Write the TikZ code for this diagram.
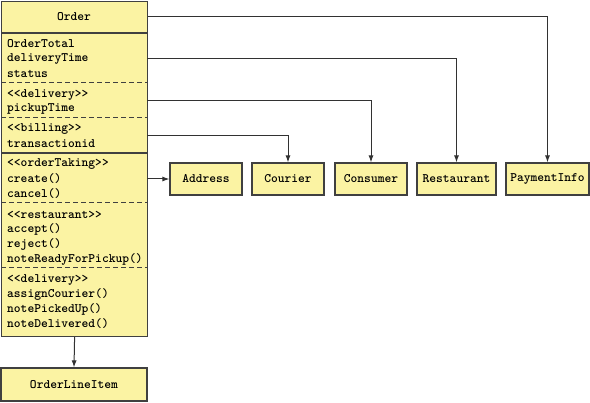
\documentclass[tikz,border=0pt]{standalone}
\usepackage{fontspec}
\usetikzlibrary{arrows.meta}
\definecolor{boxfill}{RGB}{251,243,163}
\definecolor{boxline}{RGB}{64,64,64}
\definecolor{wireline}{RGB}{50,50,50}
\begin{document}
\begin{tikzpicture}[x=1pt,y=-1pt,
  cls/.style={draw=boxline, line width=1.2pt, fill=boxfill, inner sep=0pt, font=\ttfamily\bfseries\fontsize{12.9}{14}\selectfont},
  txt/.style={anchor=west, inner sep=0pt, font=\ttfamily\bfseries\fontsize{12.9}{14}\selectfont, text=black},
  sep/.style={draw=boxline, line width=1.2pt},
  dsep/.style={draw=boxline, line width=1pt, dash pattern=on 5pt off 3pt},
  arr/.style={draw=wireline, line width=1pt, -{Latex[length=7pt,width=5pt]}}
]
\useasboundingbox (0,0) rectangle (590,403);
% Order class
\node[cls, anchor=north west, minimum width=146pt, minimum height=335pt] (order) at (1,1) {};
\node[txt, anchor=center] (title) at (74,17) {Order};
\draw[sep] (1,33) -- (147,33);
\draw[dsep] (1,83) -- (147,83);
\draw[dsep] (1,118) -- (147,118);
\draw[sep] (1,153) -- (147,153);
\draw[dsep] (1,203) -- (147,203);
\draw[dsep] (1,268) -- (147,268);
% section midpoints
\coordinate (sAttr) at (147,59);
\coordinate (sDel) at (147,100.5);
\coordinate (sBill) at (147,135.5);
\coordinate (sTake) at (147,179);
% texts
\node[txt] (t1) at (7,44) {OrderTotal};
\node[txt] (t2) at (7,59) {deliveryTime};
\node[txt] (t3) at (7,73.5) {status};
\node[txt] (t4) at (7,94.5) {<{}<delivery>{}>};
\node[txt] (t5) at (7,109) {pickupTime};
\node[txt] (t6) at (7,129.5) {<{}<billing>{}>};
\node[txt] (t7) at (7,144) {transactionid};
\node[txt] (t8) at (7,164.5) {<{}<orderTaking>{}>};
\node[txt] (t9) at (7,179) {create()};
\node[txt] (t10) at (7,194) {cancel()};
\node[txt] (t11) at (7,215) {<{}<restaurant>{}>};
\node[txt] (t12) at (7,229.5) {accept()};
\node[txt] (t13) at (7,244) {reject()};
\node[txt] (t14) at (7,259) {noteReadyForPickup()};
\node[txt] (t15) at (7,280) {<{}<delivery>{}>};
\node[txt] (t16) at (7,294.5) {assignCourier()};
\node[txt] (t17) at (7,309) {notePickedUp()};
\node[txt] (t18) at (7,323.5) {noteDelivered()};
% other classes
\node[cls, minimum width=146pt, minimum height=33pt] (oli) at (74,384.5) {OrderLineItem};
\node[cls, minimum width=72pt, minimum height=32pt] (addr) at (206,179) {Address};
\node[cls, minimum width=72pt, minimum height=32pt] (cour) at (288,179) {Courier};
\node[cls, minimum width=72pt, minimum height=32pt] (cons) at (371,179) {Consumer};
\node[cls, minimum width=79pt, minimum height=32pt] (rest) at (456.5,179) {Restaurant};
\node[cls, minimum width=83pt, minimum height=32pt] (pay) at (547.5,179) {PaymentInfo};
% connectors
\draw[arr] (order.east |- title) -| (pay.north);
\draw[arr] (sAttr) -| (rest.north);
\draw[arr] (sDel) -| (cons.north);
\draw[arr] (sBill) -| (cour.north);
\draw[arr] (sTake) -- (addr.west);
\draw[arr] (order.south) -- (oli.north);
\end{tikzpicture}
\end{document}
